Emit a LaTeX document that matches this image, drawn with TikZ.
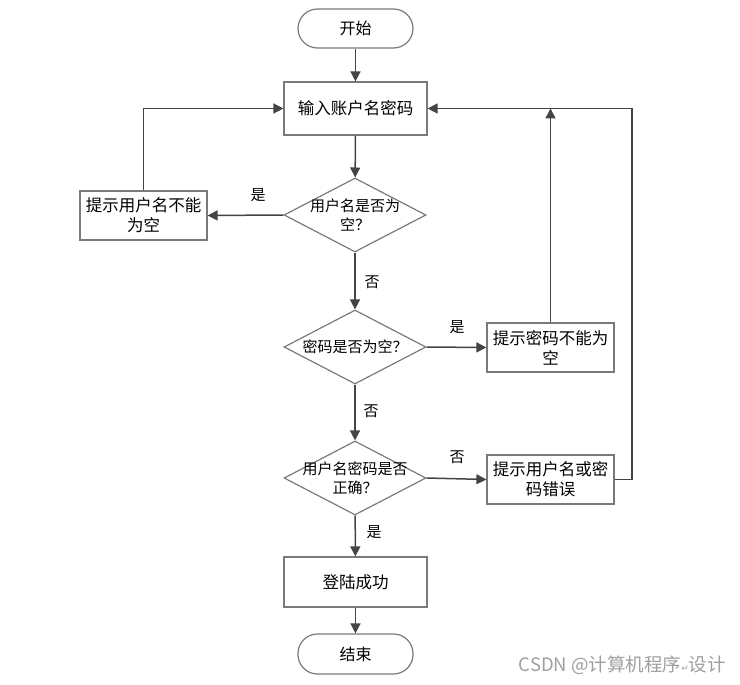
\documentclass[tikz,border=0pt]{standalone}
\usepackage{fontspec}
\setmainfont{Noto Sans CJK SC}
\newfontfamily\symfont{DejaVu Sans}
\usetikzlibrary{shapes.geometric,arrows.meta}
\definecolor{linec}{HTML}{444444}
\definecolor{boxc}{HTML}{7A7A7A}
\begin{document}
\begin{tikzpicture}[x=1pt,y=-1pt,font=\fontsize{15}{19}\selectfont,
  box/.style={draw=boxc,line width=1.2pt,align=center,inner sep=0pt},
  term/.style={box,rounded corners=19.5pt,minimum width=115pt,minimum height=39pt,font=\fontsize{16}{20}\selectfont},
  proc/.style={box,minimum width=143pt,minimum height=53pt,font=\fontsize{16.5}{20}\selectfont},
  msg/.style={box,minimum width=127pt,minimum height=49pt,font=\fontsize{16.5}{20}\selectfont},
  dec/.style={box,diamond,minimum width=142pt,minimum height=74pt},
  arr/.style={draw=linec,line width=1.5pt,-{Triangle[length=10pt,width=10pt]}},
  lbl/.style={inner sep=0pt}]
\useasboundingbox (0,0) rectangle (740,685);
\node[term] (start) at (355.5,28.5) {开始};
\node[proc] (input) at (355.5,108.5) {输入账户名密码};
\node[dec] (d1) at (355,215) {};
\node[lbl] at (d1) [align=center] {用户名是否为\\空？};
\node[msg] (m1) at (143.5,215.5) {提示用户名不能\\为空};
\node[dec] (d2) at (355,347) {};
\node[lbl] at (d2) {密码是否为空？};
\node[msg] (m2) at (550.5,347.5) {提示密码不能为\\空};
\node[dec] (d3) at (355,478) {};
\node[lbl] at (d3) [align=center] {用户名密码是否\\正确？};
\node[msg] (m3) at (550.5,479.5) {提示用户名或密\\码错误};
\node[proc,minimum height=50pt] (ok) at (355.5,582) {登陆成功};
\node[term,minimum height=40pt] (end) at (355.5,654) {结束};
\coordinate (c1) at (143.5,108.5);
\coordinate (c2) at (550.5,108.5);
\coordinate (c3) at (632,479.5);
\coordinate (c4) at (632,108.5);
\draw[arr] (start) -- (input);
\draw[arr] (input) -- (d1);
\draw[arr] (d1.west) -- (m1.east);
\draw[arr] (m1.north) -- (c1) -- (input.west);
\draw[arr] (d1) -- (d2);
\draw[arr] (d2.east) -- (m2.west);
\draw[arr] (m2.north) -- (c2);
\draw[arr] (d2) -- (d3);
\draw[arr] (d3.east) -- (m3.west);
\draw[arr] (m3.east) -- (c3) -- (c4) -- (input.east);
\draw[arr] (d3) -- (ok);
\draw[arr] (ok) -- (end);
\node[lbl] (l1) at (258,195) {是};
\node[lbl] (l2) at (372,282) {否};
\node[lbl] (l3) at (457,327) {是};
\node[lbl] (l4) at (371,411) {否};
\node[lbl] (l5) at (457,457) {否};
\node[lbl] (l6) at (374,532) {是};
\node[lbl,text=gray!75,font=\fontsize{18.5}{20}\selectfont,anchor=east] (wm) at (726,665) {CSDN @计算机程序{\symfont\fontsize{9}{9}\selectfont ↵}设计};
\end{tikzpicture}
\end{document}
